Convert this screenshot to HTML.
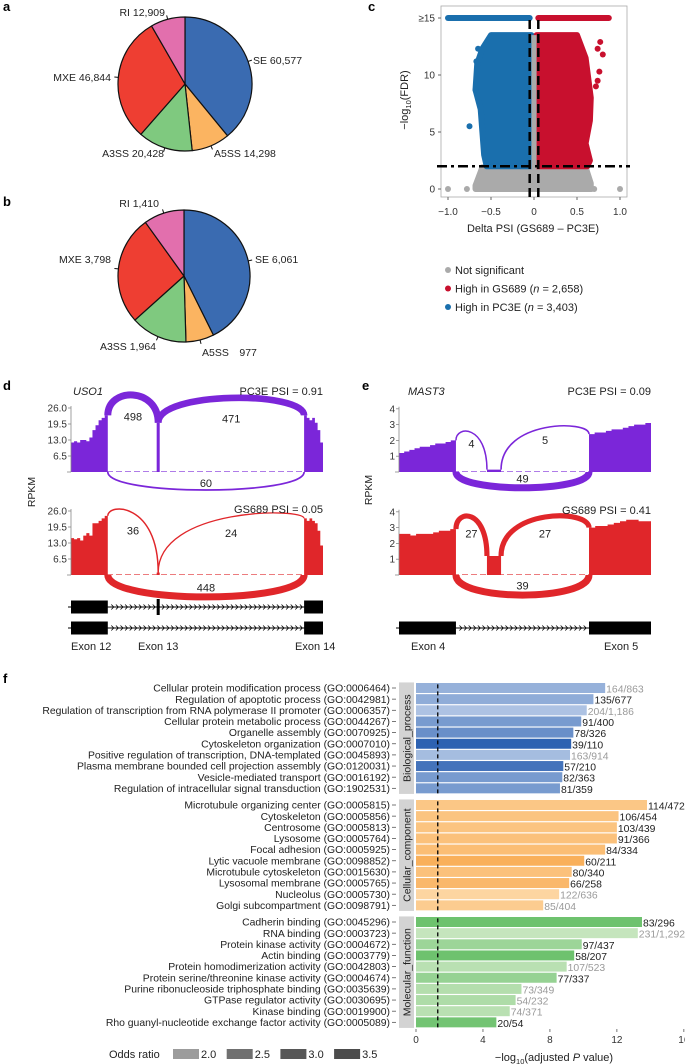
<!DOCTYPE html>
<html><head><meta charset="utf-8"><style>
html,body{margin:0;padding:0;background:#fff}
svg{display:block;font-family:"Liberation Sans",sans-serif}
</style></head><body>
<svg id="fig" width="685" height="1064" viewBox="0 0 685 1064" xmlns="http://www.w3.org/2000/svg">
<text x="3" y="11" font-size="13" font-weight="bold">a</text>
<text x="3" y="206" font-size="13" font-weight="bold">b</text>
<text x="368" y="11" font-size="13" font-weight="bold">c</text>
<text x="3" y="390" font-size="13" font-weight="bold">d</text>
<text x="362" y="390" font-size="13" font-weight="bold">e</text>
<text x="3" y="683" font-size="13" font-weight="bold">f</text>
</svg>
<script>
// ---------- data ----------
const pieCats=['SE','A5SS','A3SS','MXE','RI'];
const pieAVals=[60577,14298,20428,46844,12909];
const pieBVals=[6061,977,1964,3798,1410];

const volBlueTopRange=[-1.0,-0.05];
const volRedTopRange=[0.05,0.87];
const volBlueEnvX=[-0.03,-0.3,-0.5,-0.6,-0.66,-0.68,-0.62,-0.6,-0.58,-0.55,-0.03];
const volBlueEnvY=[13.5,13.5,13.5,12.3,11,8.7,7,5,3,2,2];
const volRedEnvX=[0.03,0.3,0.5,0.6,0.66,0.65,0.6,0.65,0.62,0.03];
const volRedEnvY=[13.5,13.5,13.5,11.5,8,6,4,2.5,2,2];
const volGrayEnvX=[-0.68,-0.6,-0.5,0.5,0.6,0.66,0.66,-0.68];
const volGrayEnvY=[0.3,1.9,1.9,1.9,1.9,0.5,0,0];
const volBlueOutX=[-0.75,-0.68,-0.67,-0.65];
const volBlueOutY=[5.5,8.7,11.2,12.3];
const volRedOutX=[0.77,0.74,0.8,0.76,0.74,0.72];
const volRedOutY=[12.9,12.3,11.8,10.3,9.5,9.0];
const volGrayOutX=[-1.0,-0.78,-0.67,0.63,0.67,0.7,1.0,-0.6,-0.55];
const volGrayOutY=[0,0,0,0,0,0,0,1.2,0.6];
const volXTicks=[-1.0,-0.5,0,0.5,1.0];
const volXTickLabels=['−1.0','−0.5','0','0.5','1.0'];
const volYTicks=[0,5,10,15];
const volYTickLabels=['0','5','10','≥15'];

const dTicks=[6.5,13.0,19.5,26.0];
const eTicks=[1,2,3,4];
const dExons=[[0,0.146],[0.34,0.352],[0.925,1]];
const eExons=[[0,0.226],[0.349,0.405],[0.754,1]];
const dTopCov=[[12,12.5,12,13,13,12.5,14,17,19,21,22,23],[20],[23,22,21,22,20,17,12]];
const dBotCov=[[15,14.5,15,14,16,17,16,21,21,22,23,24],[1],[23,22,23,22,21,18,12]];
const eTopCov=[[1.2,1.3,1.4,1.5,1.6,1.6,1.7,1.8,1.8,1.9,2.0],[0.15],[2.4,2.5,2.5,2.6,2.7,2.7,2.8,2.9,3.0,3.0,3.1]];
const eBotCov=[[2.6,2.6,2.5,2.6,2.6,2.6,2.7,2.8,2.8,2.9],[1.2],[3.0,3.1,3.1,3.2,3.3,3.4,3.5,3.5,3.4,3.4]];
const dTopJ={from:[0.146,0.346,0.146],to:[0.346,0.925,0.925],count:[498,471,60],side:['up','up','down'],ext:[31.3,30.1,7.3]};
const dBotJ={from:[0.146,0.346,0.146],to:[0.346,0.925,0.925],count:[36,24,448],side:['up','up','down'],ext:[25.2,23.6,8.9]};
const eTopJ={from:[0.226,0.405,0.226],to:[0.349,0.754,0.754],count:[4,5,49],side:['up','up','down'],ext:[2.5,2.8,1.0]};
const eBotJ={from:[0.226,0.405,0.226],to:[0.349,0.754,0.754],count:[27,27,39],side:['up','up','down'],ext:[3.67,3.67,1.27]};

const bpTerms=['Cellular protein modification process (GO:0006464)','Regulation of apoptotic process (GO:0042981)','Regulation of transcription from RNA polymerase II promoter (GO:0006357)','Cellular protein metabolic process (GO:0044267)','Organelle assembly (GO:0070925)','Cytoskeleton organization (GO:0007010)','Positive regulation of transcription, DNA-templated (GO:0045893)','Plasma membrane bounded cell projection assembly (GO:0120031)','Vesicle-mediated transport (GO:0016192)','Regulation of intracellular signal transduction (GO:1902531)'];
const bpVals=[11.3,10.6,10.2,9.87,9.4,9.27,9.2,8.8,8.74,8.6];
const bpCounts=['164/863','135/677','204/1,186','91/400','78/326','39/110','163/914','57/210','82/363','81/359'];
const bpOdds=[2.2,2.3,1.9,2.6,2.8,3.6,2.0,3.3,2.6,2.6];
const ccTerms=['Microtubule organizing center (GO:0005815)','Cytoskeleton (GO:0005856)','Centrosome (GO:0005813)','Lysosome (GO:0005764)','Focal adhesion (GO:0005925)','Lytic vacuole membrane (GO:0098852)','Microtubule cytoskeleton (GO:0015630)','Lysosomal membrane (GO:0005765)','Nucleolus (GO:0005730)','Golgi subcompartment (GO:0098791)'];
const ccVals=[13.8,12.1,12.0,12.0,11.3,10.05,9.3,9.15,8.55,7.6];
const ccCounts=['114/472','106/454','103/439','91/366','84/334','60/211','80/340','66/258','122/636','85/404'];
const ccOdds=[2.4,2.5,2.5,2.6,2.7,3.2,2.6,2.9,1.9,2.2];
const mfTerms=['Cadherin binding (GO:0045296)','RNA binding (GO:0003723)','Protein kinase activity (GO:0004672)','Actin binding (GO:0003779)','Protein homodimerization activity (GO:0042803)','Protein serine/threonine kinase activity (GO:0004674)','Purine ribonucleoside triphosphate binding (GO:0035639)','GTPase regulator activity (GO:0030695)','Kinase binding (GO:0019900)','Rho guanyl-nucleotide exchange factor activity (GO:0005089)'];
const mfVals=[13.5,13.25,9.9,9.45,9.0,8.4,6.3,5.95,5.6,4.8];
const mfCounts=['83/296','231/1,292','97/437','58/207','107/523','77/337','73/349','54/232','74/371','20/54'];
const mfOdds=[3.3,1.8,2.5,3.3,2.0,2.6,2.1,2.2,2.0,3.2];
const goXTicks=[0,4,8,12,16];
const goThreshold=1.3;
const oddsLegend=[2.0,2.5,3.0,3.5];

// ---------- helpers ----------
const NS='http://www.w3.org/2000/svg';
const svg=document.getElementById('fig');
function mk(tag,a,p){const e=document.createElementNS(NS,tag);for(const k in a)e.setAttribute(k,a[k]);(p||svg).appendChild(e);return e;}
function tx(s,a,p){const e=mk('text',a,p);e.textContent=s;return e;}
const fmt=v=>v.toLocaleString('en-US');

// ---------- pies ----------
const pieColors=['#3a6bb1','#fbb461','#7fc97f','#ee3e32','#e26fad'];
function drawPie(cx,cy,r,vals,labPos,prefix){
  const g=mk('g',{});
  
  
  const tot=vals.reduce((a,b)=>a+b,0);let a0=-Math.PI/2;
  vals.forEach((v,i)=>{
    const a1=a0+v/tot*2*Math.PI;
    const x0=cx+r*Math.cos(a0),y0=cy+r*Math.sin(a0),x1=cx+r*Math.cos(a1),y1=cy+r*Math.sin(a1);
    const p=mk('path',{d:`M${cx},${cy}L${x0},${y0}A${r},${r} 0 ${a1-a0>Math.PI?1:0} 1 ${x1},${y1}Z`,fill:pieColors[i],stroke:'#111','stroke-width':1.2,'stroke-linejoin':'round'},g);
    
    
    const am=(a0+a1)/2;
    const tk=mk('line',{x1:cx+r*Math.cos(am),y1:cy+r*Math.sin(am),x2:cx+(r+4)*Math.cos(am),y2:cy+(r+4)*Math.sin(am),stroke:'#111','stroke-width':1},g);
    
    
    const lp=labPos[i];
    const t=tx(pieCats[i]+(lp[3]?'\u2002\u2002':' ')+fmt(v),{x:lp[0],y:lp[1],'text-anchor':lp[2],'font-size':10.5,fill:'#222'},g);
    
    
    a0=a1;
  });
}
drawPie(185,84,67,pieAVals,[[253,64,'start'],[214,157,'start'],[164,157,'end'],[111,81,'end'],[165,16,'end']],'pie-a');
drawPie(184,276,66,pieBVals,[[255,263,'start'],[202,356,'start',1],[156,350,'end'],[111,263,'end'],[159,207,'end']],'pie-b');

// ---------- volcano ----------
const vx=v=>534+86*v, vy=v=>189-11.4*v;
const vg=mk('g',{});


const frame=mk('rect',{x:441,y:6,width:186,height:191,fill:'none',stroke:'#aaa','stroke-width':0.8},vg);


function envelope(xs,ys,col,name){
  const pts=xs.map((x,i)=>vx(x)+','+vy(ys[i])).join(' ');
  const p=mk('polygon',{points:pts,fill:col,stroke:col,'stroke-width':6,'stroke-linejoin':'round'},vg);
  
  
}
function dots(xs,ys,col,name){
  xs.forEach((x,i)=>{const c=mk('circle',{cx:vx(x),cy:vy(ys[i]),r:3,fill:col},vg);
    
    });
}
const GRAY='#aaaaaa',BLUE='#1a6fad',RED='#c8102e';
envelope(volGrayEnvX,volGrayEnvY,GRAY,'not-significant-points');
dots(volGrayOutX,volGrayOutY,GRAY,'not-significant-point');
envelope(volBlueEnvX,volBlueEnvY,BLUE,'high-in-pc3e-points');
envelope(volRedEnvX,volRedEnvY,RED,'high-in-gs689-points');
dots(volBlueOutX,volBlueOutY,BLUE,'high-in-pc3e-point');
dots(volRedOutX,volRedOutY,RED,'high-in-gs689-point');
const tb=mk('line',{x1:vx(volBlueTopRange[0]),x2:vx(volBlueTopRange[1]),y1:vy(15),y2:vy(15),stroke:BLUE,'stroke-width':6,'stroke-linecap':'round'},vg);


const tr=mk('line',{x1:vx(volRedTopRange[0]),x2:vx(volRedTopRange[1]),y1:vy(15),y2:vy(15),stroke:RED,'stroke-width':6,'stroke-linecap':'round'},vg);


const gc=mk('rect',{x:vx(-0.03),y:vy(13.5),width:vx(0.03)-vx(-0.03),height:vy(0)-vy(13.5),fill:GRAY},vg);


const hl=mk('line',{x1:437,x2:630,y1:vy(2),y2:vy(2),stroke:'#000','stroke-width':2.5,'stroke-dasharray':'10 4 3 4'},vg);


[-0.05,0.05].forEach(v=>{const l=mk('line',{x1:vx(v),x2:vx(v),y1:197,y2:16,stroke:'#000','stroke-width':2.5,'stroke-dasharray':'9 5'},vg);
  
  });
volXTicks.forEach((v,i)=>{
  const l=mk('line',{x1:vx(v),x2:vx(v),y1:197,y2:200,stroke:'#666'},vg);
  
  
  const t=tx(volXTickLabels[i],{x:vx(v),y:215,'text-anchor':'middle','font-size':10,fill:'#333'},vg);
  
  
});
volYTicks.forEach((v,i)=>{
  const l=mk('line',{x1:438,x2:441,y1:vy(v),y2:vy(v),stroke:'#666'},vg);
  
  
  const t=tx(volYTickLabels[i],{x:435,y:vy(v)+3.5,'text-anchor':'end','font-size':10,fill:'#333'},vg);
  
  
});
</script>
<script>
// static texts for volcano
(function(){
const NS='http://www.w3.org/2000/svg',svg=document.getElementById('fig');
function T(s,a){const e=document.createElementNS(NS,'text');for(const k in a)e.setAttribute(k,a[k]);e.innerHTML=s;svg.appendChild(e);return e;}
let t=T('Delta PSI (GS689 – PC3E)',{x:533,y:232,'text-anchor':'middle','font-size':11,fill:'#222'});


t=T('−log<tspan font-size="7.5" dy="3">10</tspan><tspan dy="-3">(FDR)</tspan>',{x:0,y:0,transform:'translate(408,100) rotate(-90)','text-anchor':'middle','font-size':11,fill:'#222'});


const leg=[['#aaaaaa','Not significant'],['#c8102e','High in GS689 (<tspan font-style="italic">n</tspan> = 2,658)'],['#1a6fad','High in PC3E (<tspan font-style="italic">n</tspan> = 3,403)']];
leg.forEach((l,i)=>{
  const c=document.createElementNS(NS,'circle');c.setAttribute('cx',448);c.setAttribute('cy',270+18.5*i);c.setAttribute('r',3);c.setAttribute('fill',l[0]);svg.appendChild(c);
  
  
  const tt=T(l[1],{x:455,y:274+18.5*i,'font-size':11,fill:'#222'});
  
  
});
})();
</script>
<script>
// ---------- sashimi ----------
function sashimi(o){
  const g=mk('g',{});
  
  
  const X=r=>o.x0+r*(o.x1-o.x0), Y=v=>o.base-v*o.ppu;
  // coverage
  o.exons.forEach((ex,k)=>{
    const vals=o.cov[k];const n=vals.length;
    let d=`M${X(ex[0])},${o.base}`;
    vals.forEach((v,i)=>{const xa=X(ex[0]+(ex[1]-ex[0])*i/n),xb=X(ex[0]+(ex[1]-ex[0])*(i+1)/n);d+=`L${xa},${Y(v)}L${xb},${Y(v)}`;});
    d+=`L${X(ex[1])},${o.base}Z`;
    const p=mk('path',{d:d,fill:o.col},g);
    
    
  });
  const bl=mk('line',{x1:X(0),x2:X(1),y1:o.base-0.5,y2:o.base-0.5,stroke:o.col,'stroke-width':1,'stroke-dasharray':'6 3',opacity:0.6},g);
  
  
  function edge(r){let best=0,bd=9;o.exons.forEach((ex,k)=>{const v=o.cov[k];if(Math.abs(r-ex[1])<bd){bd=Math.abs(r-ex[1]);best=v[v.length-1];}if(Math.abs(r-ex[0])<bd){bd=Math.abs(r-ex[0]);best=v[0];}});return best;}
  const J=o.j;const mx=Math.max(...J.count);
  J.count.forEach((c,i)=>{
    const xa=X(J.from[i]),xb=X(J.to[i]);const sw=1+6*c/mx;
    let ya,yb,P;
    if(J.side[i]==='up'){ya=Y(edge(J.from[i]));yb=Y(edge(J.to[i]));P=Y(J.ext[i]);}
    else{ya=o.base;yb=o.base;P=o.base+J.ext[i]*o.ppu;}
    const cy=(P-0.125*(ya+yb))/0.75;
    const a=mk('path',{d:`M${xa},${ya}C${xa},${cy} ${xb},${cy} ${xb},${yb}`,fill:'none',stroke:o.col,'stroke-width':sw},g);
    
    
    const ly=J.side[i]==='up'?P+0.28*(o.base-P)+4:P-sw/2-2;
    const t=tx(String(c),{x:(xa+xb)/2,y:ly,'text-anchor':'middle','font-size':11,fill:'#222'},g);
    
    
  });
  // axis
  const ax=mk('line',{x1:o.x0,x2:o.x0,y1:o.base,y2:Y(o.ticks[o.ticks.length-1])-2,stroke:'#888','stroke-width':0.8},g);
  
  
  const b0=mk('line',{x1:o.x0-4,x2:o.x0,y1:o.base,y2:o.base,stroke:'#888','stroke-width':0.8},g);
  
  
  o.ticks.forEach(v=>{
    const l=mk('line',{x1:o.x0-3,x2:o.x0,y1:Y(v),y2:Y(v),stroke:'#888','stroke-width':0.8},g);
    
    
    const t=tx(o.tfmt(v),{x:o.x0-4,y:Y(v)+3.5,'text-anchor':'end','font-size':10,fill:'#333'},g);
    
    
  });
  const ti=tx(o.title,{x:o.x1,y:o.ty,'text-anchor':'end','font-size':11,fill:'#222'},g);
  
  
}
const f1=v=>v.toFixed(1), f0=v=>String(v);
sashimi({name:'uso1-pc3e-track',x0:71,x1:323,base:472,ppu:64/26,exons:dExons,cov:dTopCov,j:dTopJ,col:'#7b26d9',ticks:dTicks,tfmt:f1,title:'PC3E  PSI = 0.91',ty:395});
sashimi({name:'uso1-gs689-track',x0:71,x1:323,base:575,ppu:64/26,exons:dExons,cov:dBotCov,j:dBotJ,col:'#e0262a',ticks:dTicks,tfmt:f1,title:'GS689 PSI = 0.05',ty:513});
sashimi({name:'mast3-pc3e-track',x0:399,x1:651,base:472,ppu:15.8,exons:eExons,cov:eTopCov,j:eTopJ,col:'#7b26d9',ticks:eTicks,tfmt:f0,title:'PC3E PSI = 0.09',ty:395});
sashimi({name:'mast3-gs689-track',x0:399,x1:651,base:575,ppu:15.8,exons:eExons,cov:eBotCov,j:eBotJ,col:'#e0262a',ticks:eTicks,tfmt:f0,title:'GS689 PSI = 0.41',ty:514});

function geneModel(x0,x1,y,exons,name){
  const g=mk('g',{});
  
  
  const X=r=>x0+r*(x1-x0);
  const ln=mk('line',{x1:x0-3,x2:x1,y1:y,y2:y,stroke:'#000','stroke-width':1},g);
  
  
  let d='';for(let x=X(exons[0][1])+5;x<X(exons[exons.length-1][0])-2;x+=4.6)d+=`M${x-1.5},${y-2.5}L${x+1},${y}L${x-1.5},${y+2.5}`;
  const ch=mk('path',{d:d,fill:'none',stroke:'#000','stroke-width':0.8},g);
  
  
  exons.forEach(ex=>{const w=Math.max(3,X(ex[1])-X(ex[0]));const r=mk('rect',{x:X(ex[0]),y:y-(w<5?8:6.5),width:w,height:w<5?16:13,fill:'#000'},g);
    
    });
}
geneModel(71,323,607,[[0,0.146],[0.34,0.352],[0.925,1]],'uso1-isoform-inclusion');
geneModel(71,323,628,[[0,0.146],[0.925,1]],'uso1-isoform-skipping');
geneModel(399,651,628,[[0,0.226],[0.754,1]],'mast3-gene-model');
[['USO1',73,395,'gene-name-uso1'],['MAST3',408,395,'gene-name-mast3']].forEach(a=>{const t=tx(a[0],{x:a[1],y:a[2],'font-size':11,'font-style':'italic',fill:'#222'});
  
  });
[['Exon 12',71],['Exon 13',138],['Exon 14',295],['Exon 4',411],['Exon 5',604]].forEach(a=>{const t=tx(a[0],{x:a[1],y:650,'font-size':11,fill:'#222'});
  
  });
[[35,492],[372,490]].forEach(p=>{const t=tx('RPKM',{x:0,y:0,transform:`translate(${p[0]},${p[1]}) rotate(-90)`,'text-anchor':'middle','font-size':10.5,fill:'#222'});
  
  });

// ---------- GO bars ----------
const gx=v=>416+16.74*v;
const groups=[
 {name:'Biological_process',terms:bpTerms,vals:bpVals,counts:bpCounts,odds:bpOdds,y0:688,light:[180,200,230],dark:[45,98,178]},
 {name:'Cellular_component',terms:ccTerms,vals:ccVals,counts:ccCounts,odds:ccOdds,y0:805,light:[253,216,166],dark:[248,164,69]},
 {name:'Molecular_function',terms:mfTerms,vals:mfVals,counts:mfCounts,odds:mfOdds,y0:922,light:[197,229,189],dark:[92,187,94]}];
const step=11.15;
groups.forEach(G=>{
  const g=mk('g',{});
  
  
  const top=G.y0-step/2,h=step*G.terms.length;
  const s=mk('rect',{x:399,y:top,width:15,height:h,fill:'#d3d3d3'},g);
  
  
  const st=tx(G.name,{x:0,y:0,transform:`translate(410.5,${top+h/2}) rotate(-90)`,'text-anchor':'middle','font-size':10.5,fill:'#222'},g);
  
  
  G.terms.forEach((term,i)=>{
    const y=G.y0+i*step;
    const t=Math.max(0,Math.min(1,(G.odds[i]-1.8)/1.8));
    const c=G.light.map((l,k)=>Math.round(l+(G.dark[k]-l)*t));
    const b=mk('rect',{x:gx(0),y:y-5,width:gx(G.vals[i])-gx(0),height:10,fill:`rgb(${c})`},g);
    
    
    const lt=tx(term,{x:390,y:y+3.6,'text-anchor':'end','font-size':10.4,fill:'#222'},g);
    
    
    const tk=mk('line',{x1:392,x2:396,y1:y,y2:y,stroke:'#555','stroke-width':0.8},g);
    
    
    const ct=tx(G.counts[i],{x:gx(G.vals[i])+1,y:y+4.5,'font-size':10.4,fill:G.odds[i]<2.25?'#9a9a9a':'#222'},g);
    
    
  });
  const dl=mk('line',{x1:gx(goThreshold),x2:gx(goThreshold),y1:top+2,y2:top+h,stroke:'#000','stroke-width':1.3,'stroke-dasharray':'4 3'},g);
  
  
});
goXTicks.forEach(v=>{
  const l=mk('line',{x1:gx(v),x2:gx(v),y1:1029,y2:1032,stroke:'#555','stroke-width':0.8});
  
  
  const t=tx(String(v),{x:gx(v),y:1043,'text-anchor':'middle','font-size':10,fill:'#333'});
  
  
});
const gt=tx('',{x:554,y:1061,'text-anchor':'middle','font-size':11,fill:'#222'});
gt.innerHTML='−log<tspan font-size="7.5" dy="3">10</tspan><tspan dy="-3">(adjusted </tspan><tspan font-style="italic">P</tspan> value)';


const ol=tx('Odds ratio',{x:109,y:1058,'font-size':11,fill:'#222'});


const legGray=['#9c9c9c','#707070','#575757','#4c4c4c'];
oddsLegend.forEach((v,i)=>{
  const x=173+53.7*i;
  const r=mk('rect',{x:x,y:1049,width:26,height:10,fill:legGray[i]});
  
  
  const t=tx(v.toFixed(1),{x:x+28,y:1058,'font-size':11,fill:'#222'});
  
  
});
</script>
</body></html>
